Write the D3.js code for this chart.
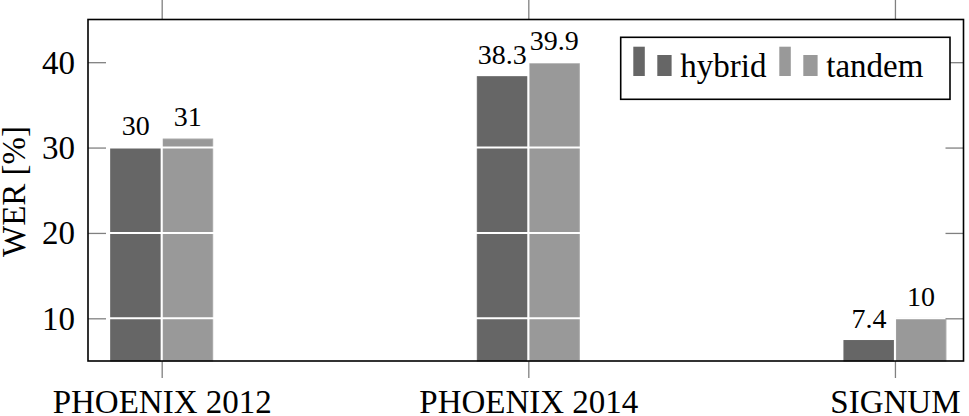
<!DOCTYPE html>
<html><head><meta charset="utf-8">
<script src="https://cdn.jsdelivr.net/npm/d3@7"></script>
</head><body style="margin:0">
<svg id="c" width="969" height="416"></svg>
<script>
const categories = ["PHOENIX 2012", "PHOENIX 2014", "SIGNUM"];
const hybrid = [30, 38.3, 7.4];
const tandem = [31, 39.9, 10];
const seriesNames = ["hybrid", "tandem"];
const yTicks = [10, 20, 30, 40];

const fontNames = ["Liberation Serif"];
const f = fontNames[0];
const svg = d3.select("#c");
const L = 88, R = 963.5, T = 19.5, B = 361;
const x = d3.scaleLinear().domain([-0.201, 2.187]).range([L, R]);
const y = d3.scaleLinear().domain([5, 45]).range([B, T]);
const barW = 50, gap = 1;
const colors = {hybrid: "#666666", tandem: "#999999"};
const strokes = {hybrid: "#6a6a6a", tandem: "#a8a8a8"};

const series = [
  {name: "hybrid", values: hybrid, off: -(barW/2 + gap)},
  {name: "tandem", values: tandem, off: (barW/2 + gap)}
];

series.forEach(s => {
  svg.append("g").selectAll("rect").data(s.values).join("rect")
    .attr("x", (d,i) => x(i) + s.off - barW/2)
    .attr("y", d => y(d))
    .attr("width", barW)
    .attr("height", d => B - y(d))
    .attr("fill", colors[s.name])
    .attr("stroke", strokes[s.name]).attr("stroke-width", 1);
});

svg.append("g").selectAll("line").data(yTicks).join("line")
  .attr("x1", L).attr("x2", R).attr("y1", d => y(d)).attr("y2", d => y(d))
  .attr("stroke", "#fff").attr("stroke-width", 2);
svg.append("g").selectAll("line").data(categories).join("line")
  .attr("x1", (d,i) => x(i)).attr("x2", (d,i) => x(i))
  .attr("y1", T).attr("y2", B).attr("stroke", "#fff").attr("stroke-width", 2);

series.forEach(s => {
  svg.append("g").selectAll("text").data(s.values).join("text")
    .attr("x", (d,i) => x(i) + s.off)
    .attr("y", d => y(d) - 12.8)
    .attr("text-anchor", "middle")
    .attr("font-size", 28)
    .attr("fill", "#000")
    .text(d => d);
});

const yAxisL = d3.axisLeft(y).tickValues(yTicks).tickSize(-18).tickFormat(d3.format("d"));
const gL = svg.append("g").attr("transform", `translate(${L},0)`).call(yAxisL);
gL.attr("font-family", null);
gL.select(".domain").remove();
gL.selectAll(".tick line").attr("stroke", "#808080").attr("stroke-width", 1.3);
gL.selectAll(".tick text").attr("font-size", 33).attr("fill", "#000")
  .attr("dy", "0.33em").attr("x", -13);

const yAxisR = d3.axisRight(y).tickValues(yTicks).tickSize(-18).tickFormat("");
const gR = svg.append("g").attr("transform", `translate(${R},0)`).call(yAxisR);
gR.select(".domain").remove();
gR.selectAll(".tick line").attr("stroke", "#808080").attr("stroke-width", 1.3);

const xAxisB = d3.axisBottom(x).tickValues([0,1,2]).tickSize(17).tickFormat(i => categories[i]);
const gB = svg.append("g").attr("transform", `translate(0,${B})`).call(xAxisB);
gB.attr("font-family", null);
gB.select(".domain").remove();
gB.selectAll(".tick line").attr("stroke", "#808080").attr("stroke-width", 1.3);
gB.selectAll(".tick text").attr("font-size", 33).attr("fill", "#000")
  .attr("dy", 0).attr("y", 51.5);

const xAxisT = d3.axisTop(x).tickValues([0,1,2]).tickSize(19.5).tickFormat("");
const gT = svg.append("g").attr("transform", `translate(0,${T})`).call(xAxisT);
gT.select(".domain").remove();
gT.selectAll(".tick line").attr("stroke", "#808080").attr("stroke-width", 1.3);

svg.append("rect").attr("x", L).attr("y", T).attr("width", R - L).attr("height", B - T)
  .attr("fill", "none").attr("stroke", "#000").attr("stroke-width", 1.6);

svg.append("text").attr("transform", "translate(25,191.5) rotate(-90)")
  .attr("text-anchor", "middle").attr("font-size", 33).attr("fill", "#000")
  .text("WER [%]");

const lg = svg.append("g");
lg.append("rect").attr("x", 620.7).attr("y", 37.3).attr("width", 329.3).attr("height", 62)
  .attr("fill", "#fff").attr("stroke", "#000").attr("stroke-width", 1.6);
const legendItems = [
  {name: seriesNames[0], x0: 633.3},
  {name: seriesNames[1], x0: 779.3}
];
legendItems.forEach(it => {
  lg.append("rect").attr("x", it.x0).attr("y", 46.7).attr("width", 11.5).attr("height", 29.3)
    .attr("fill", colors[it.name]);
  lg.append("rect").attr("x", it.x0 + 24).attr("y", 55).attr("width", 14.3).attr("height", 21)
    .attr("fill", colors[it.name]);
  lg.append("text").attr("x", it.x0 + 47).attr("y", 76.5).attr("font-size", 33)
    .attr("fill", "#000").text(it.name);
});

svg.selectAll("text").style("font-family", `"${f}"`);
</script></body></html>
